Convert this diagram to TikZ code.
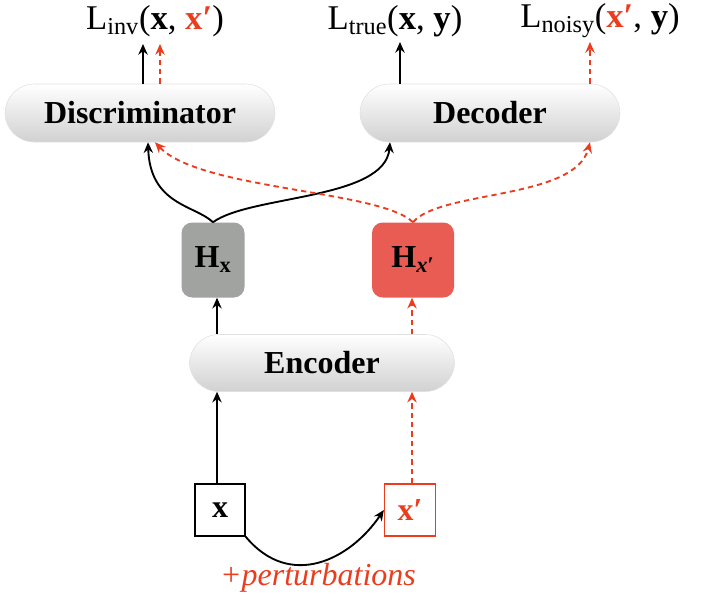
\documentclass[tikz,border=0pt]{standalone}
\usepackage{fontspec}
\setmainfont{Liberation Serif}
\usetikzlibrary{arrows.meta}
\definecolor{rd}{RGB}{236,60,30}
\definecolor{hx}{RGB}{160,163,160}
\definecolor{hxp}{RGB}{232,92,84}
\begin{document}
\begin{tikzpicture}[x=0.75pt,y=-0.75pt,
 pill/.style={rounded corners=22pt,top color=white,bottom color=black!18,draw=black!12,font=\fontsize{24}{24}\selectfont\bfseries},
 blk/.style={-{Stealth[length=8pt,width=7pt]},line width=1.4pt},
 red/.style={-{Stealth[length=8pt,width=7pt]},line width=1.4pt,draw=rd,dash pattern=on 4pt off 3pt},
 lab/.style={font=\fontsize{26}{26}\selectfont,inner sep=1pt}]
\useasboundingbox (0,0) rectangle (710,601);
\node[pill,minimum width=270*0.75pt,minimum height=58*0.75pt] (dis) at (140,113) {Discriminator};
\node[pill,minimum width=260*0.75pt,minimum height=58*0.75pt] (dec) at (490,113) {Decoder};
\node[pill,minimum width=265*0.75pt,minimum height=57*0.75pt] (enc) at (322,363) {Encoder};
\node[fill=hx,rounded corners=8pt,minimum width=63*0.75pt,minimum height=75*0.75pt,font=\fontsize{24}{24}\selectfont\bfseries] (hx) at (213,260) {H\textsubscript{x}};
\node[fill=hxp,rounded corners=8pt,minimum width=82*0.75pt,minimum height=75*0.75pt,font=\fontsize{24}{24}\selectfont\bfseries] (hxp) at (413,260) {H\textsubscript{\textit{x}′}};
\node[draw,line width=1pt,minimum width=50*0.75pt,minimum height=52*0.75pt,font=\fontsize{24}{24}\selectfont\bfseries] (x) at (220,510) {x};
\node[draw=rd,line width=1pt,minimum width=51*0.75pt,minimum height=52*0.75pt,text=rd,font=\fontsize{24}{24}\selectfont\bfseries] (xp) at (410,510) {x′};
\node[text=rd,font=\fontsize{24}{24}\selectfont\itshape] (pert) at (318,578) {+perturbations};
\node[lab] (l1) at (155,21) {L\textsubscript{inv}(\textbf{x}, \textcolor{rd}{\textbf{x′}})};
\node[lab] (l2) at (395,21) {L\textsubscript{true}(\textbf{x}, \textbf{y})};
\node[lab] (l3) at (600,21) {L\textsubscript{noisy}(\textcolor{rd}{\textbf{x′}}, \textbf{y})};
\coordinate (t1) at (143,44); \coordinate (t2) at (160,44);
\coordinate (t3) at (400,42); \coordinate (t4) at (590,42);
\draw[blk] (x.north-|217,0) -- (enc.south-|217,0);
\draw[red] (xp.north-|412,0) -- (enc.south-|412,0);
\draw[blk] (enc.north-|217,0) -- (hx.south-|217,0);
\draw[red] (enc.north-|412,0) -- (hxp.south-|412,0);
\draw[blk] (dis.north-|143,0) -- (t1);
\draw[red] (dis.north-|160,0) -- (t2);
\draw[blk] (dec.north-|400,0) -- (t3);
\draw[red] (dec.north-|590,0) -- (t4);
\draw[blk] (hx.north) .. controls (195,205) and (150,205) .. (dis.south-|148,0);
\draw[blk] (hx.north) .. controls (250,195) and (385,200) .. (dec.south-|390,0);
\draw[red] (hxp.north) .. controls (380,190) and (200,190) .. (dis.south-|155,0);
\draw[red] (hxp.north) .. controls (440,190) and (575,200) .. (dec.south-|590,0);
\draw[blk] (x.south east) .. controls (290,590) and (350,560) .. (xp.west);
\end{tikzpicture}
\end{document}
